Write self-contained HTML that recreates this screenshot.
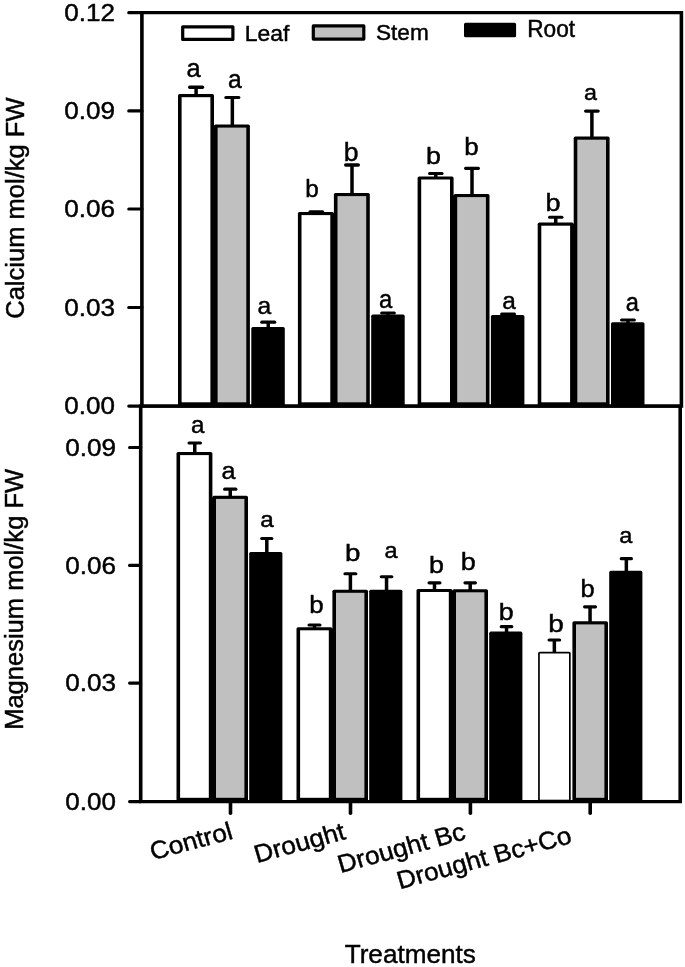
<!DOCTYPE html>
<html><head><meta charset="utf-8"><title>Calcium and Magnesium</title>
<style>html,body{margin:0;padding:0;background:#fff;}svg{display:block;filter:blur(0.4px);}</style></head>
<body>
<svg width="685" height="967" viewBox="0 0 685 967" font-family="'Liberation Sans', Arial, sans-serif" fill="#000"><style>text{stroke:#000;stroke-width:0.45px;}</style>
<rect width="685" height="967" fill="#fff"/>
<line x1="196.10" y1="87.25" x2="196.10" y2="95.60" stroke="#000" stroke-width="3.50" stroke-linecap="butt"/>
<line x1="189.65" y1="87.25" x2="202.55" y2="87.25" stroke="#000" stroke-width="3.30" stroke-linecap="round"/>
<rect x="178.00" y="94.10" width="36.00" height="311.80" rx="1.6" fill="#000"/>
<rect x="181.60" y="97.20" width="28.80" height="305.10" fill="#fff"/>
<line x1="232.35" y1="97.45" x2="232.35" y2="126.00" stroke="#000" stroke-width="3.50" stroke-linecap="butt"/>
<line x1="225.85" y1="97.45" x2="238.85" y2="97.45" stroke="#000" stroke-width="3.10" stroke-linecap="round"/>
<rect x="214.00" y="124.50" width="35.90" height="281.40" rx="1.6" fill="#000"/>
<rect x="217.60" y="127.60" width="28.70" height="274.70" fill="#c0c0c0"/>
<line x1="268.25" y1="322.15" x2="268.25" y2="328.50" stroke="#000" stroke-width="3.50" stroke-linecap="butt"/>
<line x1="261.75" y1="322.15" x2="274.75" y2="322.15" stroke="#000" stroke-width="3.10" stroke-linecap="round"/>
<rect x="251.30" y="327.00" width="33.50" height="78.90" rx="1.6" fill="#000"/>
<rect x="213.00" y="126.00" width="2" height="279.90" fill="#000"/>
<line x1="316.30" y1="211.85" x2="316.30" y2="213.50" stroke="#000" stroke-width="3.50" stroke-linecap="butt"/>
<line x1="310.05" y1="211.85" x2="322.55" y2="211.85" stroke="#000" stroke-width="3.30" stroke-linecap="round"/>
<rect x="297.90" y="212.00" width="36.00" height="193.90" rx="1.6" fill="#000"/>
<rect x="301.50" y="215.10" width="28.80" height="187.20" fill="#fff"/>
<line x1="352.00" y1="165.05" x2="352.00" y2="194.50" stroke="#000" stroke-width="3.50" stroke-linecap="butt"/>
<line x1="345.75" y1="165.05" x2="358.25" y2="165.05" stroke="#000" stroke-width="3.50" stroke-linecap="round"/>
<rect x="333.90" y="193.00" width="35.90" height="212.90" rx="1.6" fill="#000"/>
<rect x="337.50" y="196.10" width="28.70" height="206.20" fill="#c0c0c0"/>
<line x1="388.00" y1="313.05" x2="388.00" y2="316.10" stroke="#000" stroke-width="3.50" stroke-linecap="butt"/>
<line x1="381.65" y1="313.05" x2="394.35" y2="313.05" stroke="#000" stroke-width="3.10" stroke-linecap="round"/>
<rect x="371.20" y="314.60" width="33.50" height="91.30" rx="1.6" fill="#000"/>
<rect x="332.90" y="213.50" width="2" height="192.40" fill="#000"/>
<line x1="435.80" y1="173.55" x2="435.80" y2="177.90" stroke="#000" stroke-width="3.50" stroke-linecap="butt"/>
<line x1="429.55" y1="173.55" x2="442.05" y2="173.55" stroke="#000" stroke-width="3.10" stroke-linecap="round"/>
<rect x="417.60" y="176.40" width="36.00" height="229.50" rx="1.6" fill="#000"/>
<rect x="421.20" y="179.50" width="28.80" height="222.80" fill="#fff"/>
<line x1="472.00" y1="168.35" x2="472.00" y2="195.50" stroke="#000" stroke-width="3.50" stroke-linecap="butt"/>
<line x1="465.55" y1="168.35" x2="478.45" y2="168.35" stroke="#000" stroke-width="3.10" stroke-linecap="round"/>
<rect x="453.60" y="194.00" width="35.90" height="211.90" rx="1.6" fill="#000"/>
<rect x="457.20" y="197.10" width="28.70" height="205.20" fill="#c0c0c0"/>
<line x1="508.10" y1="313.95" x2="508.10" y2="316.50" stroke="#000" stroke-width="3.50" stroke-linecap="butt"/>
<line x1="501.65" y1="313.95" x2="514.55" y2="313.95" stroke="#000" stroke-width="3.10" stroke-linecap="round"/>
<rect x="490.90" y="315.00" width="33.50" height="90.90" rx="1.6" fill="#000"/>
<rect x="452.60" y="195.50" width="2" height="210.40" fill="#000"/>
<line x1="555.75" y1="217.25" x2="555.75" y2="224.10" stroke="#000" stroke-width="3.50" stroke-linecap="butt"/>
<line x1="549.55" y1="217.25" x2="561.95" y2="217.25" stroke="#000" stroke-width="3.10" stroke-linecap="round"/>
<rect x="537.70" y="222.60" width="36.00" height="183.30" rx="1.6" fill="#000"/>
<rect x="541.30" y="225.70" width="28.80" height="176.60" fill="#fff"/>
<line x1="591.90" y1="111.10" x2="591.90" y2="138.10" stroke="#000" stroke-width="3.50" stroke-linecap="butt"/>
<line x1="585.70" y1="111.10" x2="598.10" y2="111.10" stroke="#000" stroke-width="3.40" stroke-linecap="round"/>
<rect x="573.70" y="136.60" width="35.90" height="269.30" rx="1.6" fill="#000"/>
<rect x="577.30" y="139.70" width="28.70" height="262.60" fill="#c0c0c0"/>
<line x1="627.95" y1="320.05" x2="627.95" y2="323.70" stroke="#000" stroke-width="3.50" stroke-linecap="butt"/>
<line x1="621.55" y1="320.05" x2="634.35" y2="320.05" stroke="#000" stroke-width="3.10" stroke-linecap="round"/>
<rect x="611.00" y="322.20" width="33.50" height="83.70" rx="1.6" fill="#000"/>
<rect x="572.70" y="224.10" width="2" height="181.80" fill="#000"/>
<text transform="translate(186.48,76.94) scale(0.9832,1)" font-size="25.82">a</text>
<text transform="translate(228.02,87.95) scale(0.9882,1)" font-size="24.91">a</text>
<text transform="translate(257.52,313.96) scale(1.0256,1)" font-size="24.00">a</text>
<text transform="translate(305.30,197.10) scale(1.0144,1)" font-size="23.97">b</text>
<text transform="translate(343.84,160.70) scale(1.0550,1)" font-size="25.21">b</text>
<text transform="translate(379.05,307.94) scale(0.9236,1)" font-size="25.82">a</text>
<text transform="translate(426.12,163.60) scale(1.0998,1)" font-size="24.38">b</text>
<text transform="translate(464.19,155.40) scale(1.0808,1)" font-size="23.97">b</text>
<text transform="translate(502.22,309.05) scale(0.9950,1)" font-size="24.55">a</text>
<text transform="translate(545.41,211.40) scale(1.1154,1)" font-size="24.25">b</text>
<text transform="translate(583.97,99.58) scale(1.0577,1)" font-size="22.00">a</text>
<text transform="translate(625.75,310.55) scale(0.9496,1)" font-size="24.91">a</text>
<line x1="194.75" y1="443.05" x2="194.75" y2="453.50" stroke="#000" stroke-width="3.50" stroke-linecap="butt"/>
<line x1="189.05" y1="443.05" x2="200.45" y2="443.05" stroke="#000" stroke-width="3.10" stroke-linecap="round"/>
<rect x="176.50" y="452.00" width="35.90" height="349.40" rx="1.6" fill="#000"/>
<rect x="180.10" y="455.10" width="28.70" height="342.70" fill="#fff"/>
<line x1="230.25" y1="489.15" x2="230.25" y2="497.30" stroke="#000" stroke-width="3.50" stroke-linecap="butt"/>
<line x1="224.65" y1="489.15" x2="235.85" y2="489.15" stroke="#000" stroke-width="3.10" stroke-linecap="round"/>
<rect x="212.40" y="495.80" width="35.60" height="305.60" rx="1.6" fill="#000"/>
<rect x="216.00" y="498.90" width="28.40" height="298.90" fill="#c0c0c0"/>
<line x1="266.80" y1="538.55" x2="266.80" y2="553.40" stroke="#000" stroke-width="3.50" stroke-linecap="butt"/>
<line x1="261.75" y1="538.55" x2="271.85" y2="538.55" stroke="#000" stroke-width="3.10" stroke-linecap="round"/>
<rect x="249.20" y="551.90" width="33.20" height="249.50" rx="1.6" fill="#000"/>
<rect x="211.40" y="497.30" width="2" height="304.10" fill="#000"/>
<line x1="314.50" y1="624.95" x2="314.50" y2="628.70" stroke="#000" stroke-width="3.50" stroke-linecap="butt"/>
<line x1="309.05" y1="624.95" x2="319.95" y2="624.95" stroke="#000" stroke-width="3.10" stroke-linecap="round"/>
<rect x="296.50" y="627.20" width="35.90" height="174.20" rx="1.6" fill="#000"/>
<rect x="300.10" y="630.30" width="28.70" height="167.50" fill="#fff"/>
<line x1="350.40" y1="573.75" x2="350.40" y2="591.20" stroke="#000" stroke-width="3.50" stroke-linecap="butt"/>
<line x1="344.95" y1="573.75" x2="355.85" y2="573.75" stroke="#000" stroke-width="3.10" stroke-linecap="round"/>
<rect x="332.40" y="589.70" width="35.60" height="211.70" rx="1.6" fill="#000"/>
<rect x="336.00" y="592.80" width="28.40" height="205.00" fill="#c0c0c0"/>
<line x1="386.55" y1="576.75" x2="386.55" y2="591.20" stroke="#000" stroke-width="3.50" stroke-linecap="butt"/>
<line x1="381.25" y1="576.75" x2="391.85" y2="576.75" stroke="#000" stroke-width="3.10" stroke-linecap="round"/>
<rect x="369.20" y="589.70" width="33.20" height="211.70" rx="1.6" fill="#000"/>
<rect x="331.40" y="628.70" width="2" height="172.70" fill="#000"/>
<line x1="434.50" y1="582.85" x2="434.50" y2="590.40" stroke="#000" stroke-width="3.50" stroke-linecap="butt"/>
<line x1="429.05" y1="582.85" x2="439.95" y2="582.85" stroke="#000" stroke-width="3.10" stroke-linecap="round"/>
<rect x="416.50" y="588.90" width="35.90" height="212.50" rx="1.6" fill="#000"/>
<rect x="420.10" y="592.00" width="28.70" height="205.80" fill="#fff"/>
<line x1="470.20" y1="582.85" x2="470.20" y2="590.70" stroke="#000" stroke-width="3.50" stroke-linecap="butt"/>
<line x1="464.95" y1="582.85" x2="475.45" y2="582.85" stroke="#000" stroke-width="3.10" stroke-linecap="round"/>
<rect x="452.40" y="589.20" width="35.60" height="212.20" rx="1.6" fill="#000"/>
<rect x="456.00" y="592.30" width="28.40" height="205.50" fill="#c0c0c0"/>
<line x1="506.55" y1="626.65" x2="506.55" y2="633.10" stroke="#000" stroke-width="3.50" stroke-linecap="butt"/>
<line x1="501.25" y1="626.65" x2="511.85" y2="626.65" stroke="#000" stroke-width="3.10" stroke-linecap="round"/>
<rect x="489.20" y="631.60" width="33.20" height="169.80" rx="1.6" fill="#000"/>
<rect x="451.40" y="590.70" width="2" height="210.70" fill="#000"/>
<line x1="554.35" y1="639.95" x2="554.35" y2="653.30" stroke="#000" stroke-width="3.50" stroke-linecap="butt"/>
<line x1="549.05" y1="639.95" x2="559.65" y2="639.95" stroke="#000" stroke-width="3.10" stroke-linecap="round"/>
<rect x="538.10" y="651.80" width="32.60" height="149.60" rx="1.6" fill="#000"/>
<rect x="539.80" y="653.50" width="29.20" height="146.20" fill="#fff"/>
<line x1="590.05" y1="606.85" x2="590.05" y2="622.80" stroke="#000" stroke-width="3.50" stroke-linecap="butt"/>
<line x1="584.55" y1="606.85" x2="595.55" y2="606.85" stroke="#000" stroke-width="3.10" stroke-linecap="round"/>
<rect x="572.40" y="621.30" width="35.60" height="180.10" rx="1.6" fill="#000"/>
<rect x="576.00" y="624.40" width="28.40" height="173.40" fill="#c0c0c0"/>
<line x1="626.35" y1="558.65" x2="626.35" y2="572.30" stroke="#000" stroke-width="3.50" stroke-linecap="butt"/>
<line x1="621.25" y1="558.65" x2="631.45" y2="558.65" stroke="#000" stroke-width="3.10" stroke-linecap="round"/>
<rect x="609.20" y="570.80" width="33.20" height="230.60" rx="1.6" fill="#000"/>
<text transform="translate(190.93,433.47) scale(1.0412,1)" font-size="23.27">a</text>
<text transform="translate(221.59,479.47) scale(1.0910,1)" font-size="23.09">a</text>
<text transform="translate(260.13,527.19) scale(1.1294,1)" font-size="21.45">a</text>
<text transform="translate(309.19,612.90) scale(1.0996,1)" font-size="23.56">b</text>
<text transform="translate(345.06,560.60) scale(1.1371,1)" font-size="24.38">b</text>
<text transform="translate(384.56,557.98) scale(1.0844,1)" font-size="21.64">a</text>
<text transform="translate(429.12,572.60) scale(1.1123,1)" font-size="24.11">b</text>
<text transform="translate(460.71,570.00) scale(1.1218,1)" font-size="24.11">b</text>
<text transform="translate(498.82,619.90) scale(1.1123,1)" font-size="24.11">b</text>
<text transform="translate(548.14,632.10) scale(1.1661,1)" font-size="23.97">b</text>
<text transform="translate(580.42,597.10) scale(1.0618,1)" font-size="23.97">b</text>
<text transform="translate(619.25,542.58) scale(1.0577,1)" font-size="22.36">a</text>
<path d="M140.10,11.10H683.20V407.70H140.10Z M143.70,14.30V404.50H679.60V14.30Z" fill="#000" fill-rule="evenodd"/>
<line x1="128.80" y1="12.70" x2="141.90" y2="12.70" stroke="#000" stroke-width="3.20" stroke-linecap="round"/>
<line x1="128.80" y1="110.90" x2="141.90" y2="110.90" stroke="#000" stroke-width="3.20" stroke-linecap="round"/>
<line x1="128.80" y1="209.00" x2="141.90" y2="209.00" stroke="#000" stroke-width="3.20" stroke-linecap="round"/>
<line x1="128.80" y1="307.50" x2="141.90" y2="307.50" stroke="#000" stroke-width="3.20" stroke-linecap="round"/>
<line x1="128.80" y1="406.10" x2="141.90" y2="406.10" stroke="#000" stroke-width="3.20" stroke-linecap="round"/>
<path d="M138.90,404.50H682.00V803.20H138.90Z M142.50,407.70V800.00H678.40V407.70Z" fill="#000" fill-rule="evenodd"/>
<line x1="129.60" y1="447.50" x2="140.70" y2="447.50" stroke="#000" stroke-width="3.20" stroke-linecap="round"/>
<line x1="129.60" y1="565.40" x2="140.70" y2="565.40" stroke="#000" stroke-width="3.20" stroke-linecap="round"/>
<line x1="129.60" y1="683.10" x2="140.70" y2="683.10" stroke="#000" stroke-width="3.20" stroke-linecap="round"/>
<line x1="129.60" y1="801.60" x2="140.70" y2="801.60" stroke="#000" stroke-width="3.20" stroke-linecap="round"/>
<line x1="230.50" y1="801.60" x2="230.50" y2="813.20" stroke="#000" stroke-width="3.60" stroke-linecap="round"/>
<line x1="350.50" y1="801.60" x2="350.50" y2="813.20" stroke="#000" stroke-width="3.60" stroke-linecap="round"/>
<line x1="470.40" y1="801.60" x2="470.40" y2="813.20" stroke="#000" stroke-width="3.60" stroke-linecap="round"/>
<line x1="590.20" y1="801.60" x2="590.20" y2="813.20" stroke="#000" stroke-width="3.60" stroke-linecap="round"/>
<text transform="translate(64.25,21.01) scale(1.0723,1)" font-size="24.37">0.12</text>
<text transform="translate(64.25,119.21) scale(1.0723,1)" font-size="24.37">0.09</text>
<text transform="translate(64.25,217.31) scale(1.0723,1)" font-size="24.37">0.06</text>
<text transform="translate(64.25,315.81) scale(1.0723,1)" font-size="24.37">0.03</text>
<text transform="translate(64.26,414.41) scale(1.0666,1)" font-size="24.37">0.00</text>
<text transform="translate(65.25,455.81) scale(1.0723,1)" font-size="24.37">0.09</text>
<text transform="translate(65.25,573.71) scale(1.0723,1)" font-size="24.37">0.06</text>
<text transform="translate(65.25,691.41) scale(1.0723,1)" font-size="24.37">0.03</text>
<text transform="translate(65.26,809.91) scale(1.0666,1)" font-size="24.37">0.00</text>
<rect x="182.70" y="26.80" width="50.20" height="12.60" fill="#fff" stroke="#000" stroke-width="3.2" stroke-linejoin="round"/>
<text transform="translate(244.76,40.69) scale(1.0677,1)" font-size="21.49">Leaf</text>
<rect x="313.30" y="25.90" width="50.50" height="13.20" fill="#c0c0c0" stroke="#000" stroke-width="3.2" stroke-linejoin="round"/>
<text transform="translate(375.97,39.77) scale(0.9972,1)" font-size="22.68">Stem</text>
<rect x="465.60" y="24.40" width="48.90" height="11.30" fill="#000" stroke="#000" stroke-width="3.2" stroke-linejoin="round"/>
<text transform="translate(527.19,37.07) scale(0.9852,1)" font-size="23.00">Root</text>
<text transform="translate(24.28,318.78) rotate(-90) scale(1.0087,1)" font-size="25.32">Calcium mol/kg FW</text>
<text transform="translate(23.09,729.84) rotate(-90) scale(0.9918,1)" font-size="25.74">Magnesium mol/kg FW</text>
<text transform="translate(344.68,962.93) scale(0.9781,1)" font-size="26.71">Treatments</text>
<text transform="translate(152.71,860.27) scale(1.050,1) rotate(-15.75)" font-size="25.0">Control</text>
<text transform="translate(256.95,862.99) scale(1.050,1) rotate(-15.75)" font-size="25.0">Drought</text>
<text transform="translate(340.56,872.89) scale(1.050,1) rotate(-15.75)" font-size="25.0">Drought Bc</text>
<text transform="translate(399.67,889.26) scale(1.050,1) rotate(-15.75)" font-size="25.0">Drought Bc+Co</text>
</svg>
</body></html>
